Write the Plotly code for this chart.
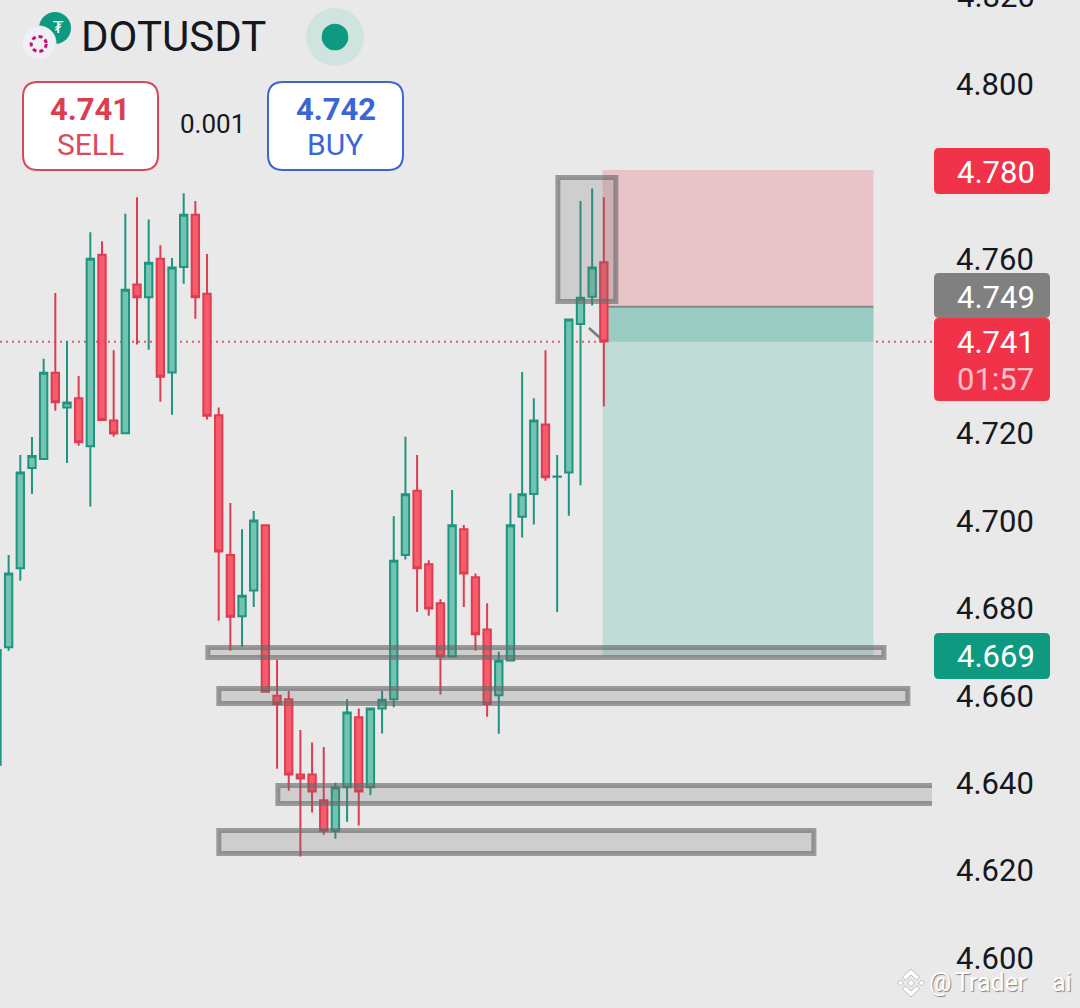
import plotly.graph_objects as go

W = 1080
H = 1008

# candles, first one is cut by the left edge
bars = list(range(-1, 52))
opens = [4.6442, 4.6711, 4.6892, 4.7121, 4.7142, 4.7339, 4.7260, 4.7281, 4.7171, 4.7609,
         4.7230, 4.7201, 4.7541, 4.7512, 4.7600, 4.7340, 4.7581, 4.7701, 4.7520, 4.7242,
         4.6922, 4.6782, 4.6841, 4.6990, 4.6600, 4.6592, 4.6420, 4.6420, 4.6361, 4.6291,
         4.6391, 4.6551, 4.6391, 4.6571, 4.6592, 4.6922, 4.7069, 4.6901, 4.6812, 4.6690,
         4.6981, 4.6871, 4.6752, 4.6601, 4.6681, 4.7010, 4.7062, 4.7221, 4.7101, 4.7111,
         4.7451, 4.7513, 4.7592]
highs = [4.6728, 4.6922, 4.7151, 4.7192, 4.7371, 4.7522, 4.7412, 4.7332, 4.7661, 4.7640,
         4.7391, 4.7703, 4.7741, 4.7690, 4.7631, 4.7602, 4.7750, 4.7732, 4.7611, 4.7260,
         4.7041, 4.6981, 4.7023, 4.6990, 4.6682, 4.6611, 4.6522, 4.6493, 4.6483, 4.6401,
         4.6592, 4.6571, 4.6571, 4.6611, 4.7011, 4.7193, 4.7151, 4.6910, 4.6821, 4.7071,
         4.6991, 4.6880, 4.6812, 4.6701, 4.7063, 4.7341, 4.7281, 4.7391, 4.7151, 4.7461,
         4.7732, 4.7761, 4.7741]
lows = [4.6430, 4.6703, 4.6863, 4.7062, 4.7142, 4.7252, 4.7133, 4.7172, 4.7033, 4.7231,
        4.7193, 4.7201, 4.7404, 4.7392, 4.7273, 4.7243, 4.7543, 4.7463, 4.7232, 4.6772,
        4.6703, 4.6712, 4.6803, 4.6609, 4.6433, 4.6383, 4.6232, 4.6333, 4.6282, 4.6273,
        4.6312, 4.6303, 4.6373, 4.6514, 4.6574, 4.6912, 4.6792, 4.6783, 4.6603, 4.6690,
        4.6803, 4.6703, 4.6552, 4.6513, 4.6681, 4.6962, 4.6992, 4.7092, 4.6792, 4.7012,
        4.7082, 4.7493, 4.7262]
closes = [4.6705, 4.6880, 4.7111, 4.7149, 4.7339, 4.7272, 4.7271, 4.7180, 4.7600, 4.7231,
          4.7200, 4.7529, 4.7512, 4.7591, 4.7330, 4.7580, 4.7701, 4.7512, 4.7241, 4.6930,
          4.6781, 4.6829, 4.7001, 4.6609, 4.6581, 4.6420, 4.6411, 4.6381, 4.6291, 4.6390,
          4.6562, 4.6381, 4.6571, 4.6591, 4.6909, 4.7061, 4.6892, 4.6800, 4.6690, 4.6990,
          4.6880, 4.6741, 4.6581, 4.6680, 4.6990, 4.7061, 4.7230, 4.7100, 4.7102, 4.7461,
          4.7511, 4.7580, 4.7411]

price_ticks = [4.60, 4.62, 4.64, 4.66, 4.68, 4.70, 4.72, 4.76, 4.80]

# drawn levels: bar start, bar end, price low, price high
zone_x0 = [17.07, 18.01, 23.07, 18.01, 47.06]
zone_x1 = [75.0, 77.05, 90.0, 69.0, 52.03]
zone_lo = [4.66877, 4.65824, 4.63536, 4.62392, 4.75023]
zone_hi = [4.67105, 4.66167, 4.63948, 4.62918, 4.77860]

take_price = 4.7803
entry_price = 4.749
last_price = 4.741
stop_price = 4.669
pos_start = 50.9
pos_end = 74.1

BG = "#e9e9e9"
INK = "#15181f"
GREEN_LINE = "#1f9480"
GREEN_FILL = "#72c4b1"
RED_LINE = "#dd3d50"
RED_FILL = "#f75b6c"
TAG_RED = "#f1334a"
TAG_GREEN = "#0d9a80"
TAG_GREY = "#808080"


def px(x):
    return x / W


def py(y):
    return 1 - y / H


def round_rect(x0, y0, x1, y1, r):
    return (f"M{px(x0 + r)},{py(y0)} L{px(x1 - r)},{py(y0)} Q{px(x1)},{py(y0)} {px(x1)},{py(y0 + r)} "
            f"L{px(x1)},{py(y1 - r)} Q{px(x1)},{py(y1)} {px(x1 - r)},{py(y1)} "
            f"L{px(x0 + r)},{py(y1)} Q{px(x0)},{py(y1)} {px(x0)},{py(y1 - r)} "
            f"L{px(x0)},{py(y0 + r)} Q{px(x0)},{py(y0)} {px(x0 + r)},{py(y0)} Z")


def poly(points):
    return "M" + " L".join(f"{px(a)},{py(b)}" for a, b in points) + " Z"


def diamond(cx, cy, r):
    return poly([(cx, cy - r), (cx + r, cy), (cx, cy + r), (cx - r, cy)])


def panel(x0, y0, x1, y1, r, fill, line=None, lw=0):
    return dict(type="path", xref="paper", yref="paper", path=round_rect(x0, y0, x1, y1, r),
                fillcolor=fill, line=dict(color=line or fill, width=lw), layer="above")


def circle(cx, cy, r, fill, line=None, lw=0, dash="solid"):
    return dict(type="circle", xref="paper", yref="paper", x0=px(cx - r), x1=px(cx + r),
                y0=py(cy + r), y1=py(cy - r), fillcolor=fill,
                line=dict(color=line or fill, width=lw, dash=dash), layer="above")


def label(x, y, text, size, color, anchor="center", family="Roboto", **kw):
    return dict(xref="paper", yref="paper", x=px(x), y=py(y), text=text, showarrow=False,
                xanchor=anchor, yanchor="middle", font=dict(family=family, size=size, color=color, **kw))


fig = go.Figure()
fig.add_trace(go.Candlestick(
    x=bars, open=opens, high=highs, low=lows, close=closes,
    increasing=dict(line=dict(color=GREEN_LINE, width=2), fillcolor=GREEN_FILL),
    decreasing=dict(line=dict(color=RED_LINE, width=2), fillcolor=RED_FILL),
    whiskerwidth=0, hoverinfo="skip", showlegend=False,
))

shapes = []

# position tool behind the candles
shapes.append(dict(type="rect", xref="x", yref="y", x0=pos_start, x1=pos_end, y0=entry_price, y1=take_price,
                   fillcolor="#e8c3c7", line_width=0, layer="below"))
shapes.append(dict(type="rect", xref="x", yref="y", x0=pos_start, x1=pos_end, y0=stop_price, y1=entry_price,
                   fillcolor="#c0dcd6", line_width=0, layer="below"))
shapes.append(dict(type="rect", xref="x", yref="y", x0=pos_start, x1=pos_end, y0=last_price, y1=entry_price,
                   fillcolor="#9bccc3", line_width=0, layer="below"))
shapes.append(dict(type="line", xref="x", yref="y", x0=pos_start, x1=pos_end, y0=entry_price, y1=entry_price,
                   line=dict(color="#7d8a88", width=2), layer="below"))
shapes.append(dict(type="line", xref="paper", yref="y", x0=0, x1=932 / W, y0=last_price, y1=last_price,
                   line=dict(color="#d9606e", width=2, dash="2px,4px"), layer="below"))
shapes.append(dict(type="path", xref="paper", yref="paper", layer="below",
                   path=f"M{px(589)},{py(328)} L{px(600)},{py(338)} L{px(613)},{py(330)}",
                   line=dict(color="#7a7a7a", width=2.5)))

# grey levels sit on top of the candles
for x0, x1, lo, hi in zip(zone_x0, zone_x1, zone_lo, zone_hi):
    shapes.append(dict(type="rect", xref="x", yref="y", x0=x0, x1=x1, y0=lo, y1=hi,
                       fillcolor="rgba(110,110,110,0.22)",
                       line=dict(color="rgba(105,105,105,0.62)", width=5), layer="above"))

# header
shapes.append(circle(55, 28, 16, TAG_GREEN))
shapes.append(circle(39, 43, 17, "#eef0f5", BG, 1))
shapes.append(circle(38.7, 44, 7.5, "rgba(0,0,0,0)", "#c2116e", 3, "4px,3px"))
shapes.append(circle(335, 37, 29, "#cfe4df"))
shapes.append(circle(335, 37, 13.3, TAG_GREEN))
shapes.append(panel(23, 82, 158, 170, 15, "#ffffff", "#d9485a", 2))
shapes.append(panel(268, 82, 403, 170, 15, "#ffffff", "#3b66d4", 2))

# price tags
shapes.append(panel(934, 148, 1050, 194, 5, TAG_RED))
shapes.append(panel(934, 273, 1050, 318, 5, TAG_GREY))
shapes.append(panel(934, 318, 1050, 401, 5, TAG_RED))
shapes.append(panel(934, 633, 1050, 679, 5, TAG_GREEN))

# watermark logo
for d in [diamond(911, 983, 3.5), diamond(900.5, 983, 3), diamond(921.5, 983, 3),
          poly([(911, 969), (919.5, 977), (916.5, 980), (911, 975), (905.5, 980), (902.5, 977)]),
          poly([(911, 997), (919.5, 989), (916.5, 986), (911, 991), (905.5, 986), (902.5, 989)])]:
    shapes.append(dict(type="path", xref="paper", yref="paper", path=d, fillcolor="#ffffff",
                       line=dict(color="rgba(150,150,150,0.6)", width=1), layer="above"))

wm_shadow = "1px 1px 1px rgba(0,0,0,0.45)"
annotations = [
    label(955, -3.4, "4.820", 31, INK, "left"),
    label(79, 37, "DOTUSDT", 42, INK, "left"),
    label(90, 109, "4.741", 31, "#dc3d50", family="Roboto", weight="bold"),
    label(90, 145, "SELL", 30, "#dc4a5c"),
    label(212, 124, "0.001", 26, INK),
    label(336, 109, "4.742", 31, "#3b66d4", weight="bold"),
    label(335, 145, "BUY", 30, "#3b66d4"),
    label(955, 172, "4.780", 31, "#ffffff", "left"),
    label(955, 297, "4.749", 31, "#ffffff", "left"),
    label(955, 342, "4.741", 31, "#ffffff", "left"),
    label(955, 379, "01:57", 31, "rgba(255,255,255,0.7)", "left"),
    label(955, 656.5, "4.669", 31, "#ffffff", "left"),
    label(58, 27, "₮", 16, "#ffffff", family="DejaVu Sans"),
    label(927, 982, "@", 25, "#ffffff", "left", shadow=wm_shadow),
    label(953, 982, "Trader", 25, "#ffffff", "left", shadow=wm_shadow),
    label(1050, 982, "ai", 25, "#ffffff", "left", shadow=wm_shadow),
]

fig.update_layout(
    width=W, height=H,
    margin=dict(l=0, r=0, t=0, b=0),
    paper_bgcolor=BG, plot_bgcolor=BG,
    showlegend=False,
    boxgap=0.1,
    shapes=shapes,
    annotations=annotations,
    xaxis=dict(domain=[0, 932 / W], range=[-0.74, 79.12], visible=False,
               rangeslider=dict(visible=False), fixedrange=True),
    yaxis=dict(range=[4.58856, 4.81922], side="right", anchor="x", showgrid=False, zeroline=False,
               showline=False, ticks="", tickmode="array", tickvals=price_ticks, tickformat=".3f",
               ticklabelstandoff=23, tickfont=dict(family="Roboto", size=31, color=INK), fixedrange=True),
)

# browser default body margin would push the chart 8px in
fig.write_html("out.html", config=dict(displayModeBar=False),
               post_script="document.body.style.margin='0';document.body.style.overflow='hidden';")
